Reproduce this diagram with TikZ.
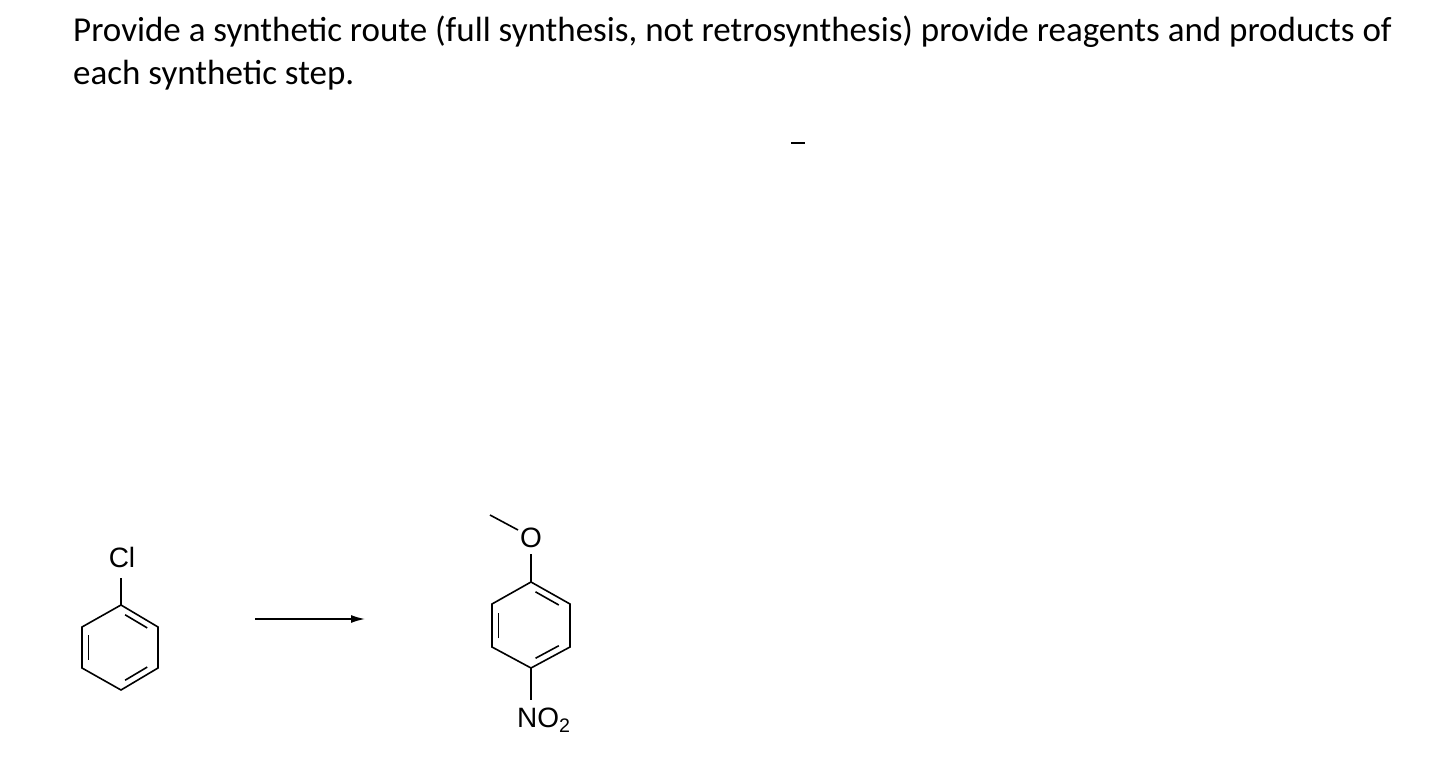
\documentclass[tikz,border=0pt]{standalone}
\usepackage{fontspec}
\setmainfont{Carlito}
\newfontfamily\chemfont{Liberation Sans}
\usetikzlibrary{calc,arrows.meta}
\newcommand{\innerbond}[3]{\draw[bond] ($(#1)!0.14!(#2)!0.17!(#3)$) -- ($(#2)!0.14!(#1)!0.17!(#3)$);}
\begin{document}
\begin{tikzpicture}[x=1pt,y=-1pt,bond/.style={line width=1.6pt},lbl/.style={font=\chemfont\fontsize{28}{32}\selectfont,inner sep=0pt}]
\useasboundingbox (0,0) rectangle (1430,778);
\node[anchor=base west,inner sep=0pt,font=\fontsize{35}{40}\selectfont] (t1) at (73,42) {Provide a synthetic route (full synthesis, not retrosynthesis) provide reagents and products of};
\node[anchor=base west,inner sep=0pt,font=\fontsize{35}{40}\selectfont] (t2) at (73,85) {each synthetic step.};
% left benzene
\foreach \n/\x/\y in {a1/121/605,a2/158/627,a3/158/668,a4/121/690,a5/82/668,a6/82/627}{\coordinate (\n) at (\x,\y);}
\draw[bond] (a1)--(a2)--(a3)--(a4)--(a5)--(a6)--cycle;
\coordinate (ac) at (120,647.5);
\innerbond{a1}{a2}{ac}\innerbond{a3}{a4}{ac}\innerbond{a5}{a6}{ac}
\node[lbl] (cl) at (122,557) {Cl};
\draw[bond] (121,578) -- (a1);
% arrow
\coordinate (ar1) at (255,619); \coordinate (ar2) at (365,619);
\draw[line width=1.5pt,-{Latex[length=14pt,width=8pt]}] (ar1) -- (ar2);
% right ring
\foreach \n/\x/\y in {b1/531/582,b2/570/604,b3/570/647,b4/531/668,b5/492/647,b6/492/604}{\coordinate (\n) at (\x,\y);}
\draw[bond] (b1)--(b2)--(b3)--(b4)--(b5)--(b6)--cycle;
\coordinate (bc) at (531,625);
\innerbond{b1}{b2}{bc}\innerbond{b3}{b4}{bc}\innerbond{b5}{b6}{bc}
\node[lbl] (o) at (531,538) {O};
\draw[bond] (531,554) -- (b1);
\draw[bond] (490,515) -- (518,530);
\node[lbl,anchor=base west] (no2) at (517,727) {NO\textsubscript{2}};
\draw[bond] (b4) -- (531,700);
\draw[line width=1.5pt] (791,143) -- (805,143);
\end{tikzpicture}
\end{document}
